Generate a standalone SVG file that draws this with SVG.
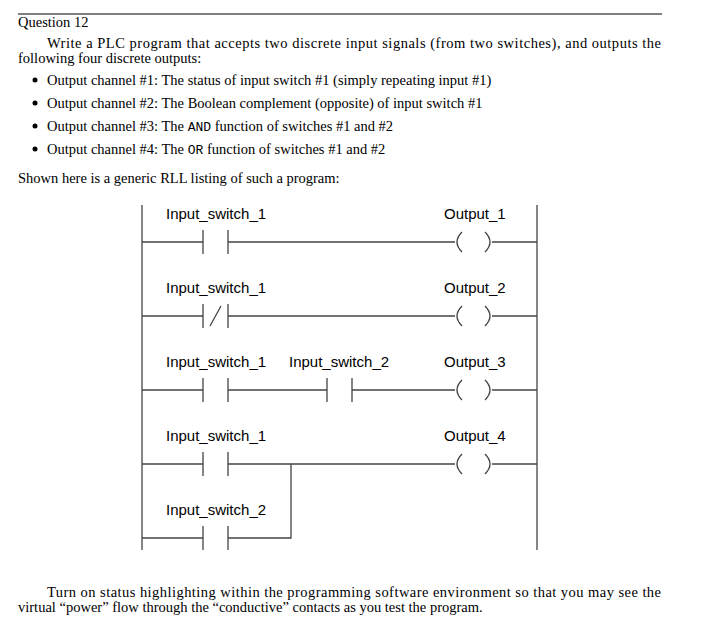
<svg xmlns="http://www.w3.org/2000/svg" width="705" height="627" viewBox="0 0 705 627">
<style>
.t{font-family:"Liberation Serif",serif;font-size:14.5px;fill:#000}
.m{font-family:"Liberation Mono",monospace;font-size:13px}
.l{font-family:"Liberation Sans",Arial,sans-serif;font-size:15px;fill:#000}
.w{stroke:#444;stroke-width:1.3;fill:none}
</style>
<rect width="705" height="627" fill="#fff"/>
<line x1="18" y1="14" x2="662" y2="14" stroke="#000" stroke-width="1"/>
<text class="t" x="18" y="27">Question 12</text>
<text class="t" x="47" y="48" textLength="614" lengthAdjust="spacing">Write a PLC program that accepts two discrete input signals (from two switches), and outputs the</text>
<text class="t" x="18" y="63">following four discrete outputs:</text>
<g class="t">
<circle cx="35" cy="80" r="2.5"/><text x="47" y="85">Output channel #1: The status of input switch #1 (simply repeating input #1)</text>
<circle cx="35" cy="103" r="2.5"/><text x="47" y="108">Output channel #2: The Boolean complement (opposite) of input switch #1</text>
<circle cx="35" cy="126" r="2.5"/><text x="47" y="131">Output channel #3: The <tspan class="m">AND</tspan> function of switches #1 and #2</text>
<circle cx="35" cy="149" r="2.5"/><text x="47" y="154">Output channel #4: The <tspan class="m">OR</tspan> function of switches #1 and #2</text>
</g>
<text class="t" x="18" y="183">Shown here is a generic RLL listing of such a program:</text>
<g id="rails" class="w"><line x1="142" y1="205" x2="142" y2="550"/><line x1="537" y1="205" x2="537" y2="550"/></g>
<g id="connectors" class="w">
<path d="M142 242H203M228 242H455M492 242H537"/>
<path d="M142 316H203M228 316H455M492 316H537"/>
<path d="M142 390H203M228 390H327M352 390H455M492 390H537"/>
<path d="M142 464H203M228 464H455M492 464H537"/>
<path d="M142 538H203M228 538H291V464"/>
</g>
<g id="r1"><text class="l" x="166" y="219">Input_switch_1</text><path class="w" d="M203 230V254M228 230V254"/></g>
<g id="o1"><text class="l" x="444" y="219">Output_1</text><path class="w" d="M462 232Q452 242 462 252M485 232Q495 242 485 252"/></g>
<g id="r2"><text class="l" x="166" y="293">Input_switch_1</text><path class="w" d="M203 304V328M228 304V328M210 326L221 306"/></g>
<g id="o2"><text class="l" x="444" y="293">Output_2</text><path class="w" d="M462 306Q452 316 462 326M485 306Q495 316 485 326"/></g>
<g id="r3a"><text class="l" x="166" y="367">Input_switch_1</text><path class="w" d="M203 378V402M228 378V402"/></g>
<g id="r3b"><text class="l" x="289" y="367">Input_switch_2</text><path class="w" d="M327 378V402M352 378V402"/></g>
<g id="o3"><text class="l" x="444" y="367">Output_3</text><path class="w" d="M462 380Q452 390 462 400M485 380Q495 390 485 400"/></g>
<g id="r4a"><text class="l" x="166" y="441">Input_switch_1</text><path class="w" d="M203 452V476M228 452V476"/></g>
<g id="r4b"><text class="l" x="166" y="515">Input_switch_2</text><path class="w" d="M203 526V550M228 526V550"/></g>
<g id="o4"><text class="l" x="444" y="441">Output_4</text><path class="w" d="M462 454Q452 464 462 474M485 454Q495 464 485 474"/></g>
<text class="t" x="47" y="597" textLength="614" lengthAdjust="spacing">Turn on status highlighting within the programming software environment so that you may see the</text>
<text class="t" x="18" y="612">virtual “power” flow through the “conductive” contacts as you test the program.</text>
</svg>
